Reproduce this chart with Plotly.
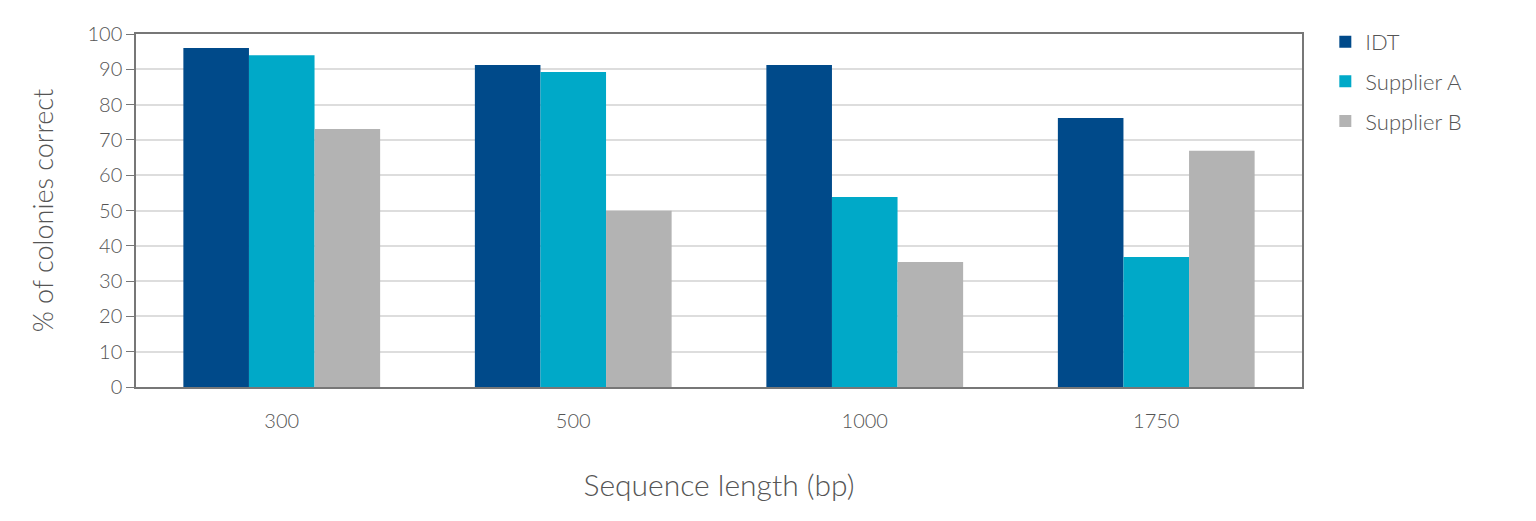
import plotly.graph_objects as go

# sequence lengths (bp)
lengths = ["300", "500", "1000", "1750"]

idt = [96.0, 91.2, 91.2, 76.2]
supplier_a = [94.0, 89.2, 53.8, 36.8]
supplier_b = [73.1, 49.9, 35.4, 66.9]

series = [
    ("IDT", idt, "#004a8a"),
    ("Supplier A", supplier_a, "#00a9c8"),
    ("Supplier B", supplier_b, "#b3b3b3"),
]

fig = go.Figure()
for name, vals, col in series:
    fig.add_trace(go.Bar(x=lengths, y=vals, name=name, marker_color=col,
                         marker_line_width=0, legendgroup=name))

fig.update_layout(
    width=1536, height=521,
    margin=dict(l=128, r=242, t=26, b=142),
    barmode="group", bargap=0.325, bargroupgap=0,
    plot_bgcolor="white", paper_bgcolor="white",
    font=dict(family="Lato", color="#555555", size=19, weight=300),
    legend=dict(x=1.02, y=1.037, xanchor="left", yanchor="top",
                font=dict(size=22, color="#555555", weight=300),
                traceorder="grouped", tracegroupgap=8,
                itemwidth=30),
    showlegend=True,
)

fig.update_xaxes(
    title=dict(text="Sequence length (bp)", font=dict(size=30, color="#555555", weight=300), standoff=44),
    showline=True, linecolor="#777777", linewidth=1.5, mirror=True,
    ticks="outside", ticklen=15, tickcolor="rgba(0,0,0,0)",
    tickfont=dict(size=20),
)
fig.update_yaxes(
    title=dict(text="% of colonies correct", font=dict(size=27, color="#555555", weight=300), standoff=26),
    range=[0, 100], dtick=10,
    showline=True, linecolor="#777777", linewidth=1.5, mirror=True,
    ticks="outside", ticklen=8, tickcolor="#777777",
    showgrid=True, gridcolor="#dddddd", gridwidth=1.5,
    tickfont=dict(size=20),
)

fig.write_html("out.html")
